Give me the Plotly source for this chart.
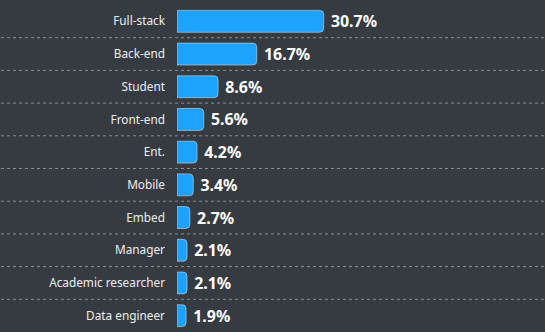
import plotly.graph_objects as go

categories = ["Full-stack", "Back-end", "Student", "Front-end", "Ent.", "Mobile",
              "Embed", "Manager", "Academic researcher", "Data engineer"]
values = [30.7, 16.7, 8.6, 5.6, 4.2, 3.4, 2.7, 2.1, 2.1, 1.9]

BG = "#363b41"
BAR = "#1da3fb"

fig = go.Figure(go.Bar(
    x=values, y=categories, orientation="h",
    marker=dict(color=BAR),
    texttemplate="\u00a0%{x}%", textposition="outside", cliponaxis=False,
    textfont=dict(family="Noto Sans", size=16, color="#ffffff", weight="bold"),
    hoverinfo="skip",
))

shapes = []
for i in range(len(categories) - 1):
    shapes.append(dict(type="line", xref="paper", yref="y",
                       x0=-1, x1=2, y0=i + 0.5, y1=i + 0.5,
                       line=dict(color="#8a8f95", width=1, dash="dot")))

fig.update_layout(
    width=545, height=332,
    margin=dict(l=177, r=0, t=5, b=0),
    paper_bgcolor=BG, plot_bgcolor=BG,
    bargap=0.33, barcornerradius=4,
    showlegend=False,
    shapes=shapes,
    xaxis=dict(range=[0, 77], visible=False, fixedrange=True),
    yaxis=dict(autorange="reversed", showgrid=False, zeroline=False,
               showline=False, ticks="", ticklabelstandoff=11,
               tickfont=dict(family="Noto Sans", size=11.8, color="#eeeeee"),
               range=[9.5, -0.5]),
)

fig.write_html("out.html")
